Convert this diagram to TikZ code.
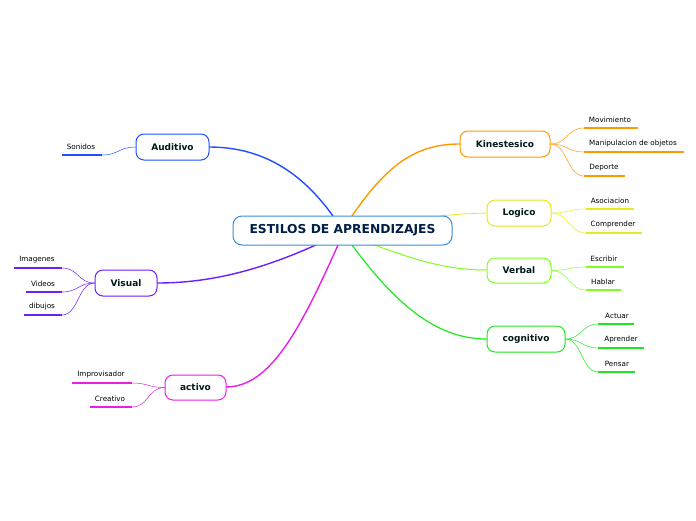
\documentclass[tikz,border=0pt]{standalone}
\usepackage{fontspec}
\setmainfont{DejaVu Sans}
\usetikzlibrary{calc}
\begin{document}
\begin{tikzpicture}[x=1pt,y=-1pt,
  br/.style={draw=#1,line width=1pt,rounded corners=8pt,fill=white,font=\bfseries\fontsize{9}{10}\selectfont,text=black!80!teal,inner sep=0pt},
  ln/.style={draw=#1,line width=1.4pt},
  thin/.style={draw=#1,line width=0.5pt},
  lt/.style={font=\fontsize{7.2}{8}\selectfont,inner sep=0pt}]
\useasboundingbox (0,0) rectangle (696,520);
\definecolor{cA}{HTML}{1F4FFF}\definecolor{cV}{HTML}{6A1FFF}\definecolor{cAc}{HTML}{E81FE8}
\definecolor{cK}{HTML}{FF9900}\definecolor{cL}{HTML}{E8E81F}\definecolor{cVe}{HTML}{80FF1F}\definecolor{cC}{HTML}{1FE81F}
\draw[ln=cA] (333,216) .. controls (300,170) and (260,147) .. (209,147);
\draw[ln=cV] (318,244) .. controls (250,275) and (200,283) .. (157,283);
\draw[ln=cAc] (338,245) .. controls (300,330) and (270,387) .. (226,387);
\draw[ln=cK] (352,216) .. controls (390,160) and (420,144) .. (460,144);
\draw[thin=cL,line width=0.8pt] (440,216) .. controls (460,214) .. (487,213);
\draw[ln=cVe,line width=1pt] (372,244) .. controls (420,262) and (450,270) .. (487,270);
\draw[ln=cC,line width=1.2pt] (352,245) .. controls (400,310) and (440,339) .. (487,339);
\node[draw={rgb,255:red,58;green,143;blue,214},line width=1pt,rounded corners=9pt,fill=white,minimum width=219pt,minimum height=29pt,font=\bfseries\fontsize{12.3}{14}\selectfont,text={rgb,255:red,0;green,30;blue,70}] (c) at (342.5,230.5) {ESTILOS DE APRENDIZAJES};
\node[br=cA,minimum width=73pt,minimum height=26pt] (aud) at (172.5,147) {Auditivo};
\node[br=cV,minimum width=62pt,minimum height=26pt] (vis) at (126,283) {Visual};
\node[br=cAc,minimum width=61pt,minimum height=25pt] (act) at (195.5,387.5) {activo};
\node[br=cK,minimum width=90pt,minimum height=26pt] (kin) at (505,144) {Kinestesico};
\node[br=cL,minimum width=64pt,minimum height=26pt] (log) at (519,213) {Logico};
\node[br=cVe,minimum width=64pt,minimum height=25pt] (ver) at (519,270.5) {Verbal};
\node[br=cC,minimum width=78pt,minimum height=26pt] (cog) at (526,339) {cognitivo};
\newcommand{\leaf}[8]{%
  \coordinate (#2a) at (#4,#6); \coordinate (#2b) at (#5,#6);
  \draw[ln=#1] (#2a) -- (#2b);
  \draw[thin=#1] (#3) .. controls ($(#3)!0.5!(#3 -| #2a)$) and ($(#2a)!0.5!(#2a -| #3)$) .. (#2a);
  \node[lt] (#2t) at (#8,#6-8.5) {#7};}
\leaf{cA}{so}{aud.west}{102}{62}{155}{Sonidos}{81}
\leaf{cV}{im}{vis.west}{62}{14}{268}{Imagenes}{37}
\leaf{cV}{vi}{vis.west}{62}{26}{292}{Videos}{43}
\leaf{cV}{di}{vis.west}{62}{24}{315}{dibujos}{42}
\leaf{cAc}{ip}{act.west}{132}{72}{383}{Improvisador}{101}
\leaf{cAc}{cr}{act.west}{132}{90}{407}{Creativo}{110}
\leaf{cK}{mo}{kin.east}{584}{638}{128}{Movimiento}{610}
\leaf{cK}{ma}{kin.east}{584}{684}{152}{Manipulacion de objetos}{633}
\leaf{cK}{de}{kin.east}{584}{625}{176}{Deporte}{604}
\leaf{cL}{as}{log.east}{586}{634}{209}{Asociacion}{610}
\leaf{cL}{co}{log.east}{586}{642}{233}{Comprender}{613}
\leaf{cVe}{es}{ver.east}{586}{624}{267}{Escribir}{604}
\leaf{cVe}{ha}{ver.east}{586}{621}{290}{Hablar}{603}
\leaf{cC}{ac}{cog.east}{598}{634}{324}{Actuar}{617}
\leaf{cC}{ap}{cog.east}{598}{644}{348}{Aprender}{621}
\leaf{cC}{pe}{cog.east}{598}{635}{372}{Pensar}{617}
\end{tikzpicture}
\end{document}
